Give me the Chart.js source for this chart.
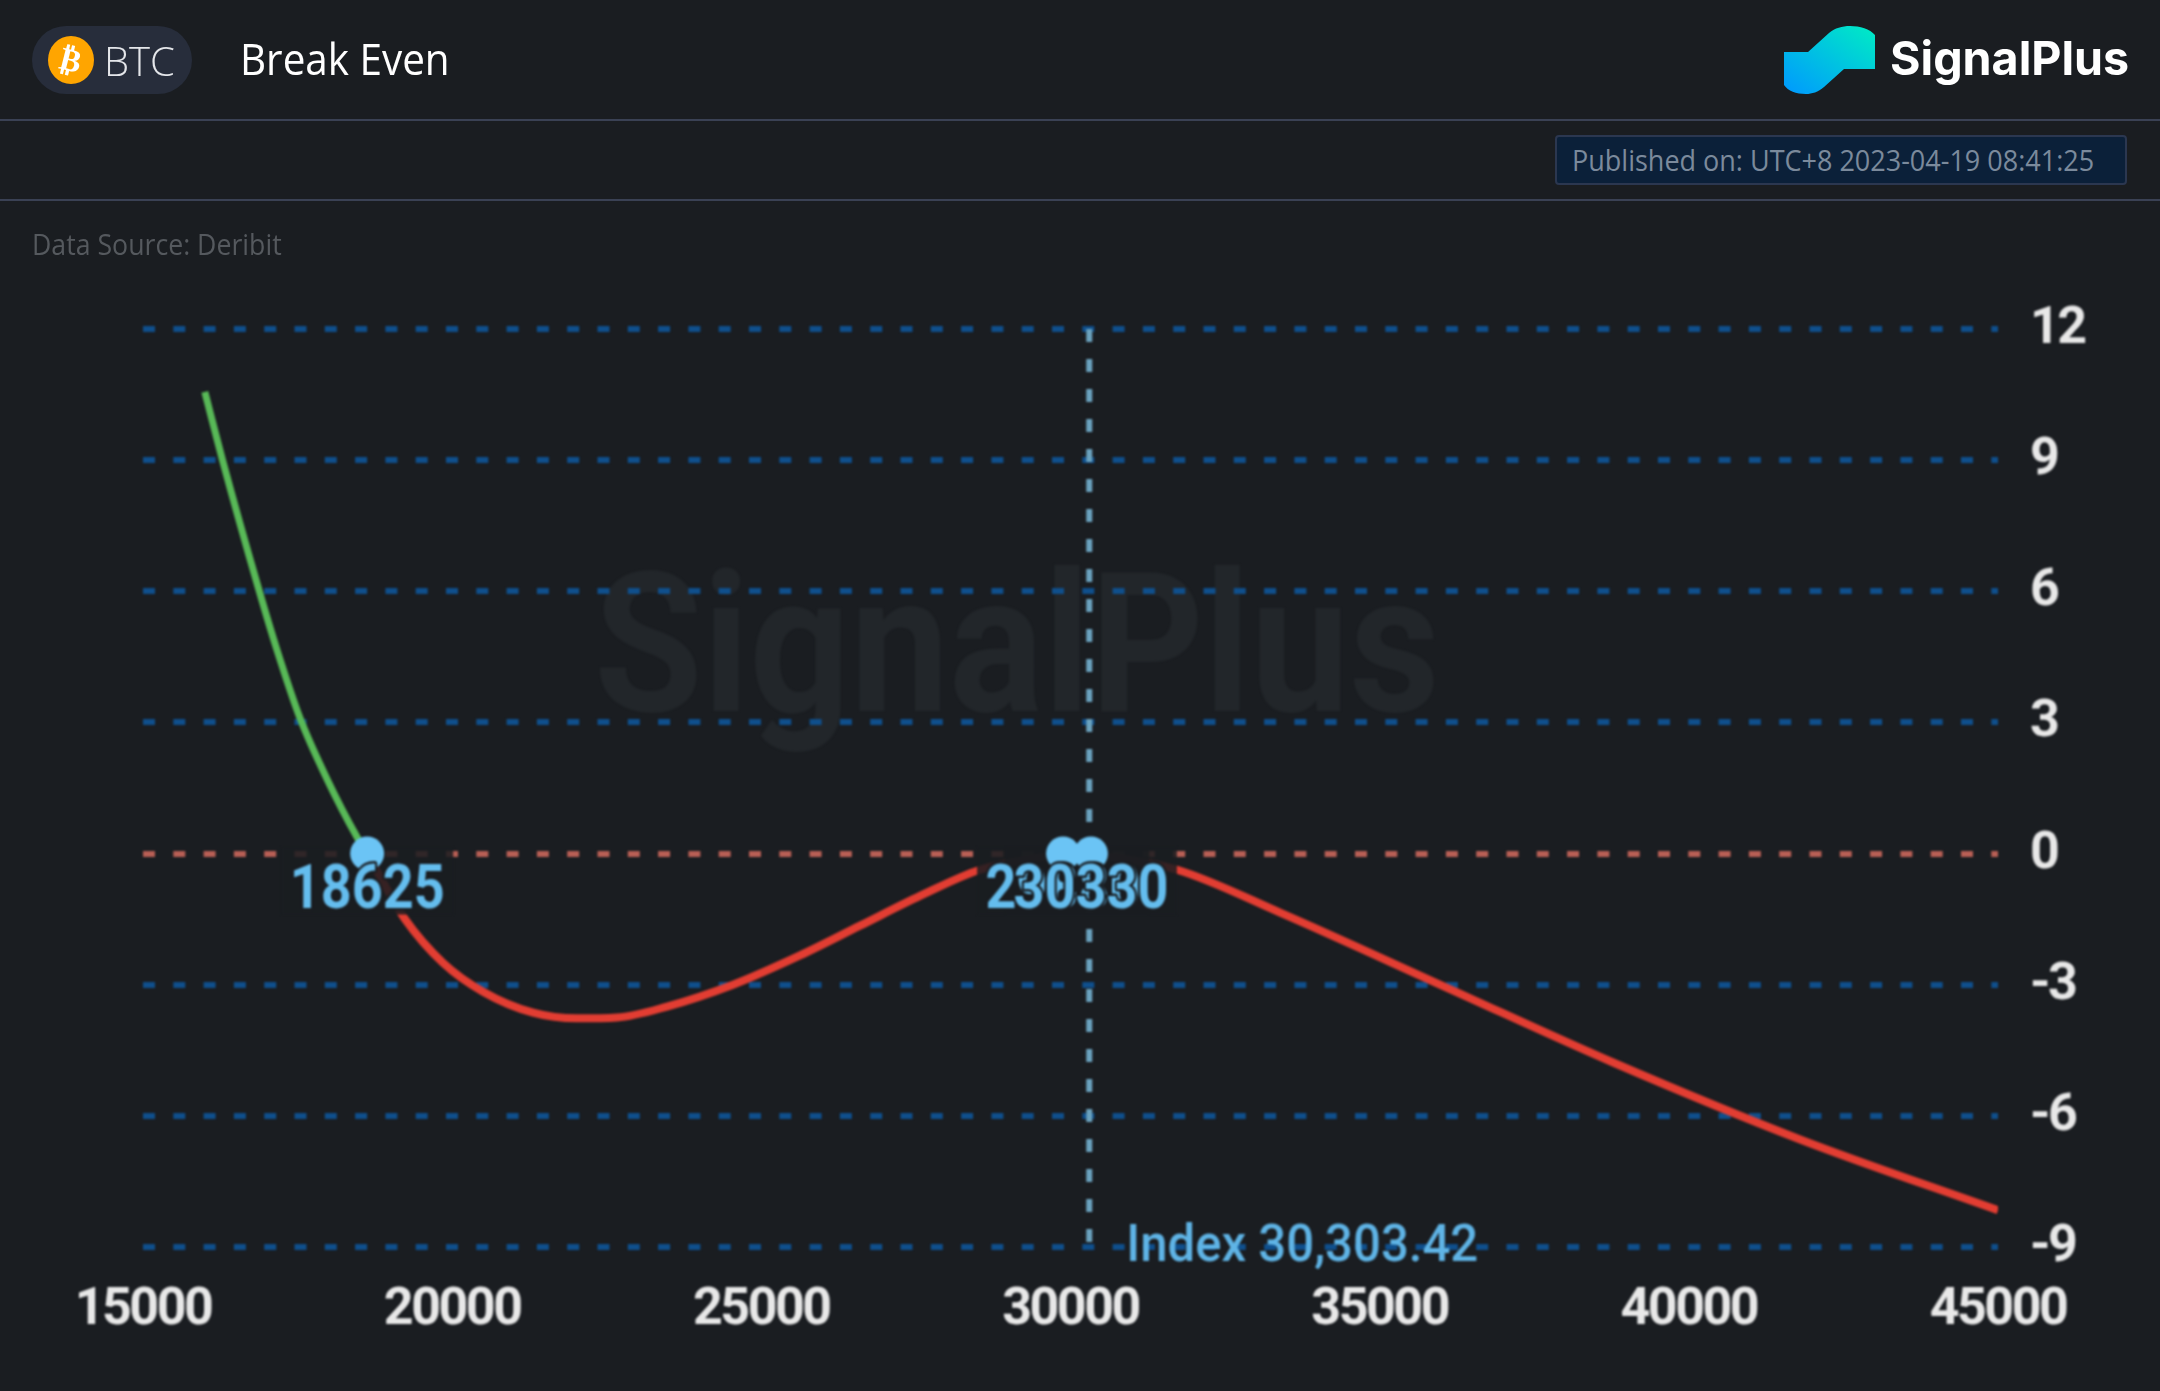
<!DOCTYPE html>
<html>
<head>
<meta charset="utf-8">
<title>Break Even</title>
<script src="https://cdn.jsdelivr.net/npm/chart.js@4"></script>
<style>
html, body { margin: 0; padding: 0; background: #1a1d21; }
body { position: relative; width: 2160px; height: 1391px; overflow: hidden; font-family: "Open Sans", sans-serif; }
#chart-holder { position: absolute; left: 0; top: 0; width: 2160px; height: 1391px; filter: blur(1px); }
.rule { position: absolute; left: 0; width: 2160px; height: 2px; background: #3a4154; }
.pill { position: absolute; left: 32px; top: 26px; width: 160px; height: 68px; border-radius: 34px; background: #272d3b; }
.coin { position: absolute; left: 48px; top: 36px; width: 46px; height: 48px; border-radius: 50%; background: #ffa500; color: #fff;
    font: bold 32px/48px "DejaVu Sans"; text-align: center; }
.coin span { display: inline-block; transform: rotate(14deg); }
.pill-text { position: absolute; left: 104px; top: 34px; font-size: 40px; line-height: 54px; font-weight: 300; color: #e4e6ea; }
.title { position: absolute; left: 240px; top: 29px; font-size: 43px; line-height: 60px; color: #fff; transform: scaleX(.94); transform-origin: left; }
.brand { position: absolute; left: 1890px; top: 30px; font: 700 46.6px/56px Inter; color: #fff; }
.logo { position: absolute; left: 1784px; top: 26px; }
.published { position: absolute; left: 1555px; top: 135px; width: 568px; height: 46px; border: 2px solid #2b3750; border-radius: 4px;
    background: #0b2039; }
.published span { position: absolute; left: 15px; top: 0; color: #7b8a9c; font-size: 30px; line-height: 46px; white-space: nowrap; transform: scaleX(.9); transform-origin: left; }
.source { position: absolute; left: 32px; top: 222px; font-size: 29px; line-height: 44px; color: #55595e; transform: scaleX(.92); transform-origin: left; }
</style>
</head>
<body>
<div id="chart-holder"><canvas id="break-even-chart" width="2160" height="1391"></canvas></div>

<div class="pill"></div>
<div class="coin"><span>₿</span></div>
<div class="pill-text">BTC</div>
<div class="title">Break Even</div>
<svg class="logo" width="92" height="68" viewBox="0 0 92 68">
    <defs>
        <linearGradient id="logo-fill" x1="0" y1="1" x2="1" y2="0">
            <stop offset="0" stop-color="#0098ff"/>
            <stop offset="1" stop-color="#00ecc4"/>
        </linearGradient>
    </defs>
    <path fill="url(#logo-fill)" d="M0 26 H24 L45 7 C51 2 58 0 66 0 C76 0 86 3 91 9 V43 H60 L40 61 C34 66 28 68 22 68 C12 68 4 65 0 59 Z"/>
</svg>
<div class="brand">SignalPlus</div>
<div class="rule" style="top:119px"></div>
<div class="published"><span>Published on: UTC+8 2023-04-19 08:41:25</span></div>
<div class="rule" style="top:199px"></div>
<div class="source">Data Source: Deribit</div>

<script>
const xTicks = [15000, 20000, 25000, 30000, 35000, 40000, 45000];
const yTicks = [-9, -6, -3, 0, 3, 6, 9, 12];

const profitX = [16000, 16286, 16873, 17162, 17539, 17971, 18456, 18625];
const profitY = [10.56, 9.0, 6.04, 4.68, 3.1, 1.72, 0.39, 0];

const lossX = [18625, 18900, 19237, 19852, 20499, 21308, 22019, 22666, 23475, 24542, 25626, 26597, 27567, 28537, 29880];
const lossY = [0, -0.7, -1.5, -2.5, -3.16, -3.64, -3.77, -3.75, -3.5, -3.0, -2.33, -1.65, -0.97, -0.37, 0];

const lossRightX = [30330, 31723, 33389, 36090, 38775, 41800, 45000];
const lossRightY = [0, -0.37, -1.35, -3.07, -4.78, -6.54, -8.16];

const breakEvens = [18625, 29880, 30330];
const indexPrice = 30303.42;

const labelColor = '#64bdee';
const pageColor = '#1a1d21';

function toPoints(xs, ys) {
    return xs.map((x, i) => ({x: x, y: ys[i]}));
}

// labels sit on a dark plate that dims whatever curve passes under them
const breakEvenLabels = {
    id: 'breakEvenLabels',
    beforeDraw(chart) {
        const ctx = chart.ctx;
        ctx.save();
        ctx.font = '700 195px Roboto';
        ctx.fillStyle = '#22262a';
        ctx.textAlign = 'center';
        ctx.fillText('SignalPlus', 1017, 711, 846);
        ctx.restore();
        // axis labels are set tight, the font has no narrow cut here
        ctx.letterSpacing = '-2.5px';
    },
    beforeDatasetsDraw(chart) {
        chart.ctx.letterSpacing = '0px';
    },
    beforeDatasetDraw(chart, args) {
        if (args.index !== 0) return;
        const {ctx, scales: {x, y}} = chart;
        ctx.save();
        ctx.fillStyle = 'rgba(26,29,33,0.86)';
        breakEvens.forEach(v => {
            ctx.fillRect(x.getPixelForValue(v) - 86, y.getPixelForValue(0) - 6, 172, 67);
        });
        ctx.restore();
    },
    afterDatasetsDraw(chart) {
        const {ctx, scales: {x, y}} = chart;
        ctx.save();
        ctx.font = '700 62px Roboto';
        ctx.textAlign = 'center';
        ctx.lineJoin = 'round';
        breakEvens.forEach(v => {
            const px = x.getPixelForValue(v), py = y.getPixelForValue(0) + 54;
            ctx.strokeStyle = pageColor;
            ctx.lineWidth = 5;
            ctx.strokeText(String(v), px, py, 155);
            ctx.fillStyle = labelColor;
            ctx.fillText(String(v), px, py, 155);
        });
        ctx.font = '500 52px Roboto';
        ctx.textAlign = 'left';
        ctx.fillStyle = '#5fb4e6';
        const indexText = 'Index ' + indexPrice.toLocaleString('en-US');
        ctx.fillText(indexText, x.getPixelForValue(indexPrice) + 37, y.getPixelForValue(-9) + 14, 352);
        ctx.restore();
    }
};

new Chart('break-even-chart', {
    type: 'scatter',
    data: {
        datasets: [
            {
                data: breakEvens.map(v => ({x: v, y: 0})),
                showLine: false,
                pointRadius: 17,
                backgroundColor: '#6bc4f5',
                borderWidth: 0
            },
            {
                data: toPoints(profitX, profitY),
                showLine: true,
                pointRadius: 0,
                borderColor: '#58b957',
                borderWidth: 7,
                cubicInterpolationMode: 'monotone'
            },
            {
                data: toPoints(lossX, lossY),
                showLine: true,
                pointRadius: 0,
                borderColor: '#e23d32',
                borderWidth: 8,
                cubicInterpolationMode: 'monotone'
            },
            {
                data: toPoints(lossRightX, lossRightY),
                showLine: true,
                pointRadius: 0,
                borderColor: '#e23d32',
                borderWidth: 8,
                cubicInterpolationMode: 'monotone'
            },
            {
                data: [{x: indexPrice, y: 12}, {x: indexPrice, y: -9}],
                showLine: true,
                pointRadius: 0,
                borderColor: '#6ba3bf',
                borderWidth: 6,
                borderDash: [13, 17]
            }
        ]
    },
    options: {
        responsive: false,
        animation: false,
        layout: {padding: {left: 143, top: 329}},
        plugins: {legend: {display: false}, tooltip: {enabled: false}},
        scales: {
            x: {
                type: 'linear',
                min: 15000,
                max: 45000,
                afterFit(scale) { scale.height = 144; },
                afterBuildTicks(scale) { scale.ticks = xTicks.map(v => ({value: v})); },
                grid: {display: false},
                border: {display: false},
                ticks: {
                    color: '#e8e8e8',
                    padding: 25,
                    maxRotation: 0,
                    autoSkip: false,
                    font: {family: 'Roboto', size: 52, weight: 'bold'},
                    callback: v => String(v)
                }
            },
            y: {
                type: 'linear',
                position: 'right',
                min: -9,
                max: 12,
                afterFit(scale) { scale.width = 162; },
                afterBuildTicks(scale) { scale.ticks = yTicks.map(v => ({value: v})); },
                grid: {
                    drawTicks: false,
                    lineWidth: 6,
                    color: ctx => ctx.tick && ctx.tick.value === 0 ? '#b85f55' : '#0f4f8c'
                },
                border: {display: false, dash: [12, 18.3]},
                ticks: {
                    color: '#e8e8e8',
                    padding: 32,
                    labelOffset: 1,
                    autoSkip: false,
                    font: {family: 'Roboto', size: 52, weight: 'bold'},
                    callback: v => String(v)
                }
            }
        }
    },
    plugins: [breakEvenLabels]
});
</script>
</body>
</html>
